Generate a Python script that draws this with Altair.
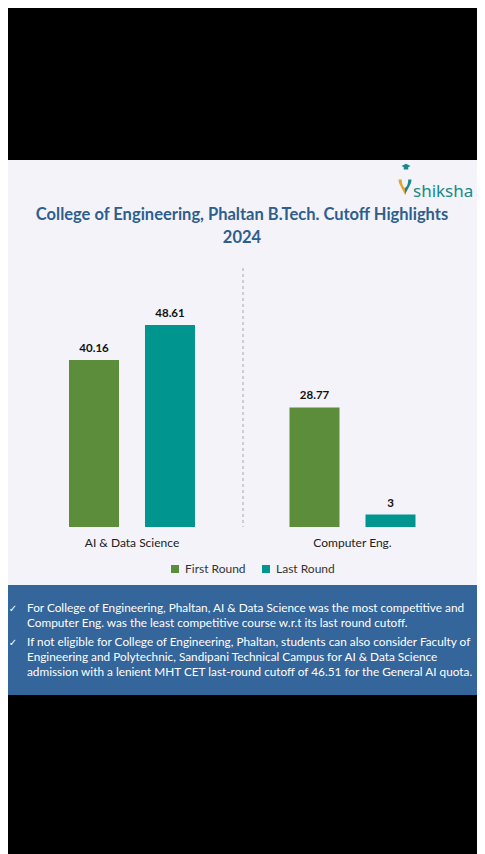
import altair as alt
import pandas as pd

# ---- data ----
categories = ["AI & Data Science", "AI & Data Science", "Computer Eng.", "Computer Eng."]
rounds = ["First Round", "Last Round", "First Round", "Last Round"]
values = [40.16, 48.61, 28.77, 3]
value_labels = ["40.16", "48.61", "28.77", "3"]
course_names = ["AI & Data Science", "Computer Eng."]
round_names = ["First Round", "Last Round"]
title_lines = ["College of Engineering, Phaltan B.Tech. Cutoff Highlights", "2024"]
bullet1 = ["For College of Engineering, Phaltan, AI & Data Science was the most competitive and",
           "Computer Eng. was the least competitive course w.r.t its last round cutoff."]
bullet2 = ["If not eligible for College of Engineering, Phaltan, students can also consider Faculty of",
           "Engineering and Polytechnic, Sandipani Technical Campus for AI & Data Science",
           "admission with a lenient MHT CET last-round cutoff of 46.51 for the General AI quota."]

GREEN = "#5B8D3A"
TEAL = "#00958F"
FONT = "Lato"

df = pd.DataFrame({"category": categories, "round": rounds, "value": values, "label": value_labels})
cat_df = pd.DataFrame({"category": course_names})
one = pd.DataFrame({"k": [0]})

W, H = 469, 846

x_enc = alt.X("category:N", sort=course_names, axis=None,
              scale=alt.Scale(range=[13.75, 454.75], paddingInner=0, paddingOuter=0))
xo_enc = alt.XOffset("round:N", sort=round_names,
                     scale=alt.Scale(paddingInner=0.342, paddingOuter=0.622))
y_enc = alt.Y("value:Q", axis=None,
              scale=alt.Scale(domain=[0, 48.61], range=[519, 317], nice=False, zero=True))

bg = alt.Chart(one).mark_rect(color="#F3F3F9").encode(
    x=alt.value(-10), x2=alt.value(W + 10), y=alt.value(152), y2=alt.value(577))
box = alt.Chart(one).mark_rect(color="#34659B").encode(
    x=alt.value(-10), x2=alt.value(W + 10), y=alt.value(577), y2=alt.value(687))

title1 = alt.Chart(one).mark_text(text=title_lines[0], font=FONT, fontSize=16.5, fontWeight="bold",
                                  color="#2E5E8E", align="center", baseline="alphabetic").encode(
    x=alt.value(234), y=alt.value(212))
title2 = alt.Chart(one).mark_text(text=title_lines[1], font=FONT, fontSize=16.5, fontWeight="bold",
                                  color="#2E5E8E", align="center", baseline="alphabetic").encode(
    x=alt.value(234), y=alt.value(235))

# logo
logo_text = alt.Chart(one).mark_text(text="shiksha", font="Noto Sans", fontSize=17, color="#17898A",
                                     align="left", baseline="alphabetic").encode(
    x=alt.value(405), y=alt.value(189))
logo_left = alt.Chart(one).mark_point(
    shape="M -1 -1 C -1 -0.2 -0.4 0.3 0 1.4 L 0 0.3 C -0.3 0.1 -0.5 -0.3 -0.5 -1 Z",
    filled=True, color="#E0A530", size=169, opacity=1, strokeWidth=0).encode(
    x=alt.value(397), y=alt.value(178))
logo_right = alt.Chart(one).mark_point(
    shape="M 1 -1 C 1 -0.2 0.4 0.3 0 1.4 L 0 0.3 C 0.3 0.1 0.5 -0.3 0.5 -1 Z",
    filled=True, color="#17898A", size=169, opacity=1, strokeWidth=0).encode(
    x=alt.value(397), y=alt.value(178))
logo_hat = alt.Chart(one).mark_point(
    shape="M -1 0 L 0 -0.5 L 1 0 L 0 0.5 Z M -0.5 0.3 L 0.5 0.3 L 0.5 0.8 L -0.5 0.8 Z",
    filled=True, color="#17898A", size=81, opacity=1, strokeWidth=0).encode(
    x=alt.value(398), y=alt.value(158))

bars = alt.Chart(df).mark_bar().encode(
    x=x_enc, xOffset=xo_enc, y=y_enc,
    color=alt.Color("round:N", sort=round_names,
                    scale=alt.Scale(domain=round_names, range=[GREEN, TEAL]),
                    legend=alt.Legend(orient="none", legendX=161, legendY=555, direction="horizontal",
                                      title=None, symbolType="square", symbolSize=64,
                                      symbolStrokeWidth=0, labelFont=FONT, labelFontSize=12,
                                      labelColor="#333333", columnPadding=14, labelOffset=4)))

labels = alt.Chart(df).mark_text(font=FONT, fontSize=11.5, fontWeight="bold", color="#111111",
                                 baseline="alphabetic", dy=-8).encode(
    x=x_enc, xOffset=xo_enc, y=y_enc, text="label:N")

cat_labels = alt.Chart(cat_df).mark_text(font=FONT, fontSize=12, color="#222222",
                                         baseline="alphabetic").encode(
    x=x_enc, y=alt.value(539), text="category:N")

divider = alt.Chart(one).mark_rule(color="#AAAAAA", strokeDash=[3, 3], strokeWidth=1).encode(
    x=alt.value(235), y=alt.value(260), y2=alt.value(519))

b1 = alt.Chart(one).mark_text(text=bullet1, font=FONT, fontSize=11.8, color="white", align="left",
                              baseline="alphabetic", lineHeight=15).encode(
    x=alt.value(19), y=alt.value(604))
b2 = alt.Chart(one).mark_text(text=bullet2, font=FONT, fontSize=11.8, color="white", align="left",
                              baseline="alphabetic", lineHeight=15).encode(
    x=alt.value(19), y=alt.value(638))
c1 = alt.Chart(one).mark_text(text="✓", font="DejaVu Sans", fontSize=10, color="white",
                              align="center", baseline="alphabetic").encode(
    x=alt.value(5), y=alt.value(604))
c2 = alt.Chart(one).mark_text(text="✓", font="DejaVu Sans", fontSize=10, color="white",
                              align="center", baseline="alphabetic").encode(
    x=alt.value(5), y=alt.value(638))

chart = alt.layer(
    bg, box, title1, title2, logo_left, logo_right, logo_hat, logo_text,
    divider, bars, labels, cat_labels, b1, b2, c1, c2
).properties(
    width=W, height=H, padding=0, autosize="none", background="#000000"
).configure_view(strokeWidth=0)

chart.save("out.html", embed_options={"renderer": "svg", "actions": False})
